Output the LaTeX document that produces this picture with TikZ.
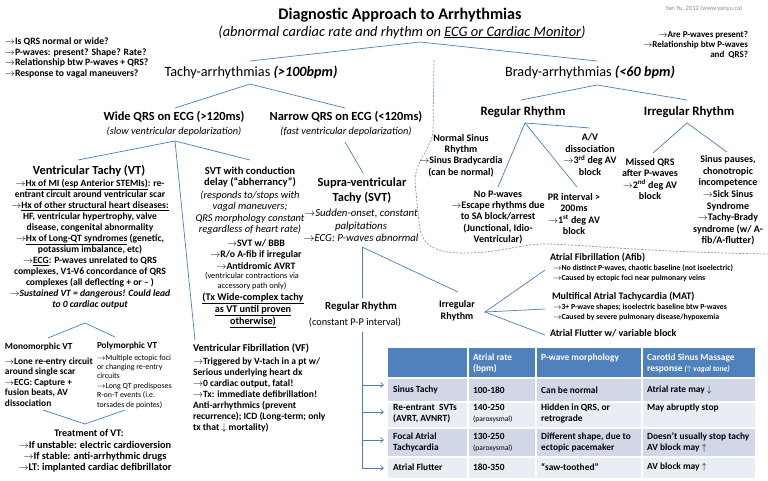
\documentclass[tikz,border=0pt]{standalone}
\usepackage{fontspec}
\setmainfont{Carlito}
\usetikzlibrary{arrows.meta}
\definecolor{ln}{HTML}{4A7EBB}
\definecolor{hd}{HTML}{4F81BD}
\definecolor{ba}{HTML}{D0D8E8}
\definecolor{bb}{HTML}{E9EDF4}
\definecolor{cr}{HTML}{8C8C8C}
\newcommand{\fs}[2]{\fontsize{#1}{#2}\selectfont}
\newcommand{\myra}{$\rightarrow$}
\newcommand{\myup}{$\uparrow$}
\newcommand{\mydn}{$\downarrow$}
\begin{document}
\begin{tikzpicture}[x=1pt,y=-1pt,
  link/.style={draw=ln, line width=0.7pt},
  dashline/.style={draw=ln!80, line width=0.7pt, dash pattern=on 2pt off 1.5pt},
  txt/.style={inner sep=0pt, outer sep=0pt, align=center, text=black, font=\fs{9.7}{10.7}\bfseries},
  lft/.style={txt, align=left, anchor=west},
  big/.style={txt, font=\fs{14.2}{16}},
  head/.style={txt, font=\fs{12.4}{14}\bfseries},
  sub/.style={txt, font=\fs{10.3}{11}\itshape\mdseries},
  cell/.style={inner sep=0pt, align=left, anchor=west, font=\fs{9.4}{10.7}\bfseries},
  hcell/.style={cell, text=white},
  arr/.style={draw=ln, line width=0.7pt, -{Straight Barb[length=3pt,width=5pt]}}
]
\useasboundingbox (0,0) rectangle (768,480);
\fill[white] (0,0) rectangle (768,480);

% title
\node[txt, font=\fs{16.2}{18}\bfseries] (title) at (400,15) {Diagnostic Approach to Arrhythmias};
\node[txt, font=\fs{14.4}{16}\itshape\mdseries] (subt) at (402,32) {(abnormal cardiac rate and rhythm on \underline{ECG or Cardiac Monitor})};
\node[txt, font=\fs{6.5}{8}\mdseries, text=cr] (credit) at (704,9) {Yan Yu, 2012 (www.yanyu.ca)};

\node[lft] (qleft) at (5,58) {\myra Is QRS normal or wide?\\ \myra P-waves: present? Shape? Rate?\\ \myra Relationship btw P-waves + QRS?\\ \myra Response to vagal maneuvers?};
\node[txt, align=right, anchor=east, font=\fs{9}{10}\bfseries] (qright) at (748,45) {\myra Are P-waves present?\\ \myra Relationship btw P-waves\\ and \ QRS?};

% top split
\coordinate (topap) at (420,42);
\coordinate (topl) at (250,61);
\coordinate (topr) at (597,61);
\draw[link] (topl) -- (topap) -- (topr);

\node[big] (tachy) at (251,72) {Tachy-arrhythmias \textbf{\textit{(>100bpm)}}};
\node[big] (brady) at (590,72) {Brady-arrhythmias \textbf{\textit{(<60 bpm)}}};

\coordinate (tap) at (250,84);
\coordinate (tal) at (175,108);
\coordinate (tar) at (345,108);
\draw[link] (tal) -- (tap) -- (tar);
\coordinate (bap) at (597,85);
\coordinate (bal) at (521,100);
\coordinate (bar) at (687,100);
\draw[link] (bal) -- (bap) -- (bar);

% dashed boundary
\draw[dashline] (434,60) -- (433,132) .. controls (431,150) and (415,160) .. (415,182)
  -- (419,222) .. controls (421,244) and (432,252) .. (460,253)
  .. controls (500,254) and (520,243) .. (550,244)
  .. controls (600,246) and (650,252) .. (768,254);

% wide / narrow
\node[head] (wide) at (174,117) {Wide QRS on ECG (>120ms)};
\node[sub] (wides) at (174,131.5) {(slow ventricular depolarization)};
\node[head] (narrow) at (346,117) {Narrow QRS on ECG (<120ms)};
\node[sub] (narrows) at (346,131.5) {(fast ventricular depolarization)};

\coordinate (wap) at (175,141);
\coordinate (wal) at (78,160);
\coordinate (war) at (250,160);
\coordinate (wad) at (195,340);
\draw[link] (wal) -- (wap) -- (war);
\draw[link] (wap) -- (wad);
\coordinate (nap) at (345,142);
\coordinate (nad) at (363,173);
\draw[link] (nap) -- (nad);

% VT
\node[head] (vt) at (89,170.5) {Ventricular Tachy (VT)};
\node[txt, font=\fs{9.6}{11}\bfseries] (vtx) at (90,244) {\myra\underline{Hx of MI (esp Anterior STEMIs)}: re-\\entrant circuit around ventricular scar\\
\myra\underline{Hx of other structural heart diseases:}\\HF, ventricular hypertrophy, valve\\disease, congenital abnormality\\
\myra\underline{Hx of Long-QT syndromes} (genetic,\\potassium imbalance, etc)\\
\myra\underline{ECG}: P-waves unrelated to QRS\\complexes, V1-V6 concordance of QRS\\complexes (all deflecting + or -- )\\
{\itshape\myra Sustained VT = dangerous! Could lead}\\{\itshape to 0 cardiac output}};

\coordinate (map) at (85,323);
\coordinate (mal) at (48,338);
\coordinate (mar) at (115,337);
\draw[link] (mal) -- (map) -- (mar);

\node[lft, font=\fs{9.3}{11}\bfseries] (mono) at (5,347) {Monomorphic VT};
\node[lft, font=\fs{9.4}{10.5}\bfseries] (monox) at (5,382) {\myra Lone re-entry circuit\\around single scar\\\myra ECG: Capture +\\fusion beats, AV\\dissociation};
\node[lft, font=\fs{9.2}{11}\bfseries] (poly) at (97,346) {Polymorphic VT};
\node[lft, font=\fs{7.9}{9.4}\mdseries] (polyx) at (97,381.5) {\myra Multiple ectopic foci\\or changing re-entry\\circuits\\\myra Long QT predisposes\\R-on-T events (i.e.\\torsades de pointes)};

\coordinate (cvl) at (43,410);
\coordinate (cvb) at (85,424);
\coordinate (cvr) at (125,410);
\draw[link] (cvl) -- (cvb) -- (cvr);

\node[txt, font=\fs{10}{11}\bfseries] (treat) at (89,433) {Treatment of VT:};
\node[txt, font=\fs{10.3}{11}\bfseries] (treatx) at (95,456.5) {\myra If unstable: electric cardioversion\\\myra If stable: anti-arrhythmic drugs\\\myra LT: implanted cardiac defibrillator};

% SVT with conduction delay
\node[txt, font=\fs{10.6}{11}\bfseries] (svtd) at (250,177) {SVT with conduction\\delay (``abherrancy'')};
\node[txt, font=\fs{10.4}{11.3}\itshape\mdseries] (svtdi) at (250,212.5) {(responds to/stops with\\vagal maneuvers;\\QRS morphology constant\\regardless of heart rate)};
\node[txt, font=\fs{9.8}{11.5}\bfseries] (svtdx) at (256,254.5) {\myra SVT w/ BBB\\\myra R/o A-fib if irregular\\\myra Antidromic AVRT};
\node[txt, font=\fs{8.3}{9.8}\mdseries] (svtds) at (252,281.5) {(ventricular contractions via\\accessory path only)};
\node[txt, font=\fs{10.2}{12}\bfseries] (svtdu) at (253,310) {\underline{(Tx Wide-complex tachy}\\\underline{as VT until proven}\\\underline{otherwise)}};

% VF
\node[lft, font=\fs{10.4}{11}\bfseries] (vf) at (193,348) {Ventricular Fibrillation (VF)};
\node[lft, font=\fs{9.6}{11}\bfseries] (vfx) at (193,395) {\myra Triggered by V-tach in a pt w/\\Serious underlying heart dx\\\myra 0 cardiac output, fatal!\\\myra Tx: immediate defibrillation!\\Anti-arrhythmics (prevent\\recurrence); ICD (Long-term; only\\tx that \mydn\ mortality)};

% SVT
\node[txt, font=\fs{12.4}{15.5}\bfseries] (svt) at (362,190.5) {Supra-ventricular\\Tachy (SVT)};
\node[txt, font=\fs{10.8}{12.5}\itshape\mdseries] (svtx) at (361,225.5) {\myra Sudden-onset, constant\\palpitations\\\myra ECG: P-waves abnormal};

\coordinate (sap) at (362,247);
\coordinate (sad) at (362,298);
\coordinate (sar) at (458,292);
\draw[link] (sap) -- (sad);
\draw[link] (sap) -- (sar);

\node[txt, font=\fs{10.8}{12}\bfseries] (reg) at (361,307) {Regular Rhythm};
\node[txt, font=\fs{10.3}{11}\mdseries] (regs) at (355,322) {(constant P-P interval)};
\node[txt, font=\fs{10}{12}\bfseries] (irr) at (457,311) {Irregular\\Rhythm};

\coordinate (iap) at (485,312);
\coordinate (ia1) at (545,270);
\coordinate (ia2) at (545,309);
\coordinate (ia3) at (545,335);
\draw[link] (ia1) -- (iap) -- (ia2);
\draw[link] (iap) -- (ia3);

\node[lft, font=\fs{10}{12}\bfseries] (afib) at (550,258) {Atrial Fibrillation (Afib)};
\node[lft, font=\fs{7.8}{10}\bfseries] (afibx) at (553,273) {\myra No distinct P-waves, chaotic baseline (not isoelectric)\\\myra Caused by ectopic foci near pulmonary veins};
\node[lft, font=\fs{10}{12}\bfseries] (mat) at (552,297) {Multifical Atrial Tachycardia (MAT)};
\node[lft, font=\fs{7.8}{10}\bfseries] (matx) at (553,312) {\myra 3+ P-wave shapes; isoelectric baseline btw P-waves\\\myra Caused by severe pulmonary disease/hypoxemia};
\node[lft, font=\fs{10}{12}\bfseries] (afl) at (550,333) {Atrial Flutter w/ variable block};

% table arrows
\coordinate (vtop) at (362,332);
\coordinate (vbot) at (362,468);
\coordinate (a1) at (384,385);
\coordinate (a2) at (384,412);
\coordinate (a3) at (384,440);
\coordinate (a4) at (384,468);
\draw[link] (vtop) -- (vbot);
\draw[arr] (362,385) -- (a1);
\draw[arr] (362,412) -- (a2);
\draw[arr] (362,440) -- (a3);
\draw[arr] (vbot) -- (a4);

% table
\fill[hd] (388,348) rectangle (755,378);
\fill[ba] (388,378) rectangle (755,402);
\fill[bb] (388,402) rectangle (755,428);
\fill[ba] (388,428) rectangle (755,457);
\fill[bb] (388,457) rectangle (755,478);
\foreach \yy in {378,402,428,457} \draw[white, line width=1.5pt] (388,\yy) -- (755,\yy);
\foreach \xx in {468,536,642} \draw[white, line width=1.5pt] (\xx,348) -- (\xx,478);

\node[hcell] (h2) at (473,363.5) {Atrial rate\\(bpm)};
\node[hcell] (h3) at (541,358) {P-wave morphology};
\node[hcell] (h4) at (647,363.5) {Carotid Sinus Massage\\response {\itshape\fs{7.8}{10.7}(\myup\ vagal tone)}};

\node[cell] (r11) at (393,390) {Sinus Tachy};
\node[cell] (r12) at (473,390) {100-180};
\node[cell] (r13) at (541,390) {Can be normal};
\node[cell] (r14) at (647,390) {Atrial rate may \mydn};

\node[cell] (r21) at (393,413.5) {Re-entrant \ SVTs\\(AVRT, AVNRT)};
\node[cell] (r22) at (473,413.5) {140-250\\{\fs{7.5}{10.7}\mdseries(paroxysmal)}};
\node[cell] (r23) at (541,413.5) {Hidden in QRS, or\\retrograde};
\node[cell] (r24) at (647,408) {May abruptly stop};

\node[cell] (r31) at (393,442.5) {Focal Atrial\\Tachycardia};
\node[cell] (r32) at (473,442.5) {130-250\\{\fs{7.5}{10.7}\mdseries(paroxysmal)}};
\node[cell] (r33) at (541,442.5) {Different shape, due to\\ectopic pacemaker};
\node[cell] (r34) at (647,442.5) {Doesn't usually stop tachy\\AV block may \myup};

\node[cell] (r41) at (393,467) {Atrial Flutter};
\node[cell] (r42) at (473,467) {180-350};
\node[cell] (r43) at (541,467) {``saw-toothed''};
\node[cell] (r44) at (647,467) {AV block may \myup};

% brady side
\node[txt, font=\fs{12.8}{14}\bfseries] (breg) at (523,112) {Regular Rhythm};
\node[txt, font=\fs{12.8}{14}\bfseries] (birr) at (689,112) {Irregular Rhythm};

\coordinate (rap) at (525,123);
\coordinate (ra1) at (498,187);
\coordinate (ra2) at (577,187);
\coordinate (ra3) at (590,128);
\draw[link] (ra1) -- (rap) -- (ra2);
\draw[link] (rap) -- (ra3);
\coordinate (iap2) at (687,123);
\coordinate (ib1) at (653,153);
\coordinate (ib2) at (727,152);
\draw[link] (ib1) -- (iap2) -- (ib2);

\node[txt, font=\fs{10}{11.3}\bfseries] (nsr) at (461,155.5) {Normal Sinus\\Rhythm\\\myra Sinus Bradycardia\\(can be normal)};
\node[txt, font=\fs{10}{11.25}\bfseries] (nop) at (498,217.5) {No P-waves\\\myra Escape rhythms due\\to SA block/arrest\\(Junctional, Idio-\\Ventricular)};
\node[txt, font=\fs{10}{11.3}\bfseries] (pr) at (574,214) {PR interval >\\200ms\\\myra 1\textsuperscript{st} deg AV\\block};
\node[txt, font=\fs{10}{11.6}\bfseries] (avd) at (590,154.5) {A/V\\dissociation\\\myra 3\textsuperscript{rd} deg AV\\block};
\node[txt, font=\fs{10}{11.3}\bfseries] (mq) at (650,179) {Missed QRS\\after P-waves\\\myra 2\textsuperscript{nd} deg AV\\block};
\node[txt, font=\fs{10}{11.6}\bfseries] (sp) at (728,200.5) {Sinus pauses,\\chonotropic\\incompetence\\\myra Sick Sinus\\Syndrome\\\myra Tachy-Brady\\syndrome (w/ A-\\fib/A-flutter)};
\end{tikzpicture}
\end{document}
